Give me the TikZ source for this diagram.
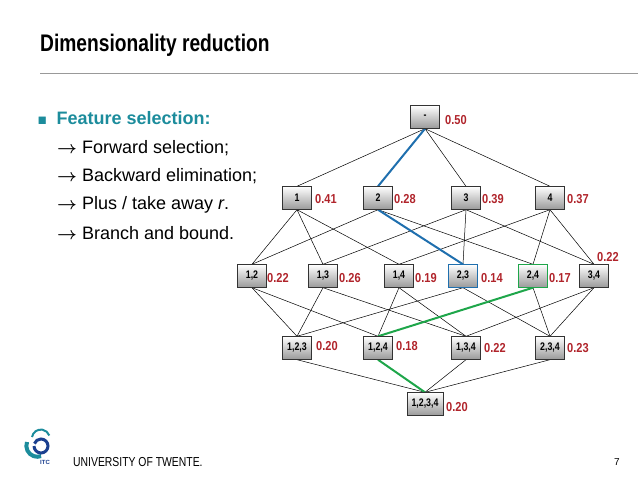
\documentclass[tikz,border=0pt]{standalone}
\usepackage{fontspec}
\setmainfont{Liberation Sans}
\usepackage{amssymb,bm}
\usetikzlibrary{backgrounds}
\definecolor{teal1}{HTML}{1C8C9C}
\definecolor{red1}{HTML}{B0242B}
\definecolor{blue1}{HTML}{1F6FAE}
\definecolor{green1}{HTML}{1EA64A}
\definecolor{logob}{HTML}{1B3F8F}
\newcommand\cnd[1]{\scalebox{0.85}[1]{#1}}
\newcommand\cnb[1]{\scalebox{0.8}[1]{#1}}
\begin{document}
\begin{tikzpicture}[x=1pt,y=-1pt,
 box/.style={draw=black!80,top color=white,bottom color=black!40,minimum width=29pt,minimum height=23pt,inner sep=1pt,font=\fontsize{11}{12}\selectfont\bfseries},
 val/.style={text=red1,font=\fontsize{13}{14}\selectfont\bfseries,anchor=west,inner sep=0pt},
 ed/.style={black,line width=0.5pt},
 hl/.style={line width=2pt}]
\useasboundingbox (0,0) rectangle (638,479);
\node[anchor=west,inner sep=0pt,font=\fontsize{24}{25}\selectfont\bfseries] (title) at (40,45) {\scalebox{0.8}[1]{Dimensionality reduction}};
\draw[black!40,line width=0.6pt] (40,73) -- (638,73);
\node[anchor=west,inner sep=0pt,text=teal1,font=\fontsize{18}{19}\selectfont\bfseries] (fs) at (38,118) {\scalebox{0.6}{$\blacksquare$}\ \ Feature selection:};
\begin{scope}[every node/.style={anchor=west,inner sep=0pt,font=\fontsize{18}{20}\selectfont}]
\node (i1) at (57,148) {$\bm{\rightarrow}$ Forward selection;};
\node (i2) at (57,176) {$\bm{\rightarrow}$ Backward elimination;};
\node (i3) at (57,205) {$\bm{\rightarrow}$ Plus / take away \textit{r}.};
\node (i4) at (57,233) {$\bm{\rightarrow}$ Branch and bound.};
\end{scope}
% nodes
\node[box] (e) at (425,117) {\cnb{-}};
\node[box] (n1) at (297,198) {\cnb{1}};
\node[box] (n2) at (378,198) {\cnb{2}};
\node[box] (n3) at (466,198) {\cnb{3}};
\node[box] (n4) at (550,198) {\cnb{4}};
\node[box] (n12) at (252,276) {\cnb{1,2}};
\node[box] (n13) at (323,276) {\cnb{1,3}};
\node[box] (n14) at (399,276) {\cnb{1,4}};
\node[box,draw=blue1] (n23) at (463,276) {\cnb{2,3}};
\node[box,draw=green1] (n24) at (533,276) {\cnb{2,4}};
\node[box] (n34) at (594,276) {\cnb{3,4}};
\node[box] (n123) at (297,348) {\cnb{1,2,3}};
\node[box] (n124) at (378,348) {\cnb{1,2,4}};
\node[box] (n134) at (466,348) {\cnb{1,3,4}};
\node[box] (n234) at (550,348) {\cnb{2,3,4}};
\node[box,minimum width=36pt] (n1234) at (425,404) {\cnb{1,2,3,4}};
% values
\node[val] at (445,120) {\cnd{0.50}};
\node[val] at (315,199) {\cnd{0.41}};
\node[val] at (394,199) {\cnd{0.28}};
\node[val] at (482,199) {\cnd{0.39}};
\node[val] at (567,199) {\cnd{0.37}};
\node[val] at (267,278) {\cnd{0.22}};
\node[val] at (339,278) {\cnd{0.26}};
\node[val] at (415,278) {\cnd{0.19}};
\node[val] at (481,278) {\cnd{0.14}};
\node[val] at (549,278) {\cnd{0.17}};
\node[val] at (597,257) {\cnd{0.22}};
\node[val] at (316,346) {\cnd{0.20}};
\node[val] at (396,346) {\cnd{0.18}};
\node[val] at (484,348) {\cnd{0.22}};
\node[val] at (567,348) {\cnd{0.23}};
\node[val] at (446,407) {\cnd{0.20}};
% edges
\begin{scope}[on background layer]
\foreach \a/\b in {e/n1,e/n3,e/n4,n1/n12,n1/n13,n1/n14,n2/n12,n2/n24,n3/n13,n3/n23,n3/n34,n4/n14,n4/n24,n4/n34,
 n12/n123,n12/n124,n13/n123,n13/n134,n14/n124,n14/n134,n23/n123,n23/n234,n24/n234,n34/n134,n34/n234,
 n123/n1234,n134/n1234,n234/n1234}
 \draw[ed] (\a.south) -- (\b.north);
\draw[hl,blue1] (e.south) -- (n2.north);
\draw[hl,blue1] (n2.south) -- (n23.north);
\draw[hl,green1] (n24.south) -- (n124.north);
\draw[hl,green1] (n124.south) -- (n1234.north);
\end{scope}
% footer logo
\draw[teal1,line width=4pt] (27,442) arc (200:70:11);
\draw[logob,line width=3pt] (34,446) arc (180:-160:7);
\draw[teal1,line width=2pt] (32,437) arc (190:340:9);
\node[font=\fontsize{6}{6}\selectfont\bfseries,text=logob] (itc) at (45,462) {ITC};
\node[anchor=west,inner sep=0pt,font=\fontsize{13}{14}\selectfont] (ut) at (73,462) {\scalebox{0.8}[1]{UNIVERSITY OF TWENTE.}};
\node[font=\fontsize{10}{10}\selectfont] (pg) at (617,462) {7};
\end{tikzpicture}
\end{document}
